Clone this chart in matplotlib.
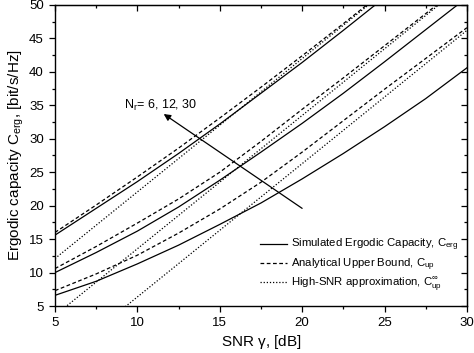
import matplotlib
matplotlib.use("Agg")
import matplotlib.pyplot as plt
from matplotlib.ticker import MultipleLocator

plt.rcParams['font.family'] = ['Liberation Sans', 'DejaVu Sans']
plt.rcParams['mathtext.default'] = 'regular'

# SNR grid [dB]
snr = [5, 7.5, 10, 12.5, 15, 17.5, 20, 22.5, 25, 27.5, 30]

# simulated ergodic capacity (solid)
sim_30 = [15.6, 19.6, 23.6, 27.8, 32.2, 36.8, 41.4, 46.2, 51.1, 56.0, 61.0]
sim_12 = [10.0, 13.0, 16.2, 19.8, 23.8, 28.0, 32.3, 36.8, 41.5, 46.3, 51.1]
sim_6 = [6.6, 8.7, 11.3, 14.1, 17.2, 20.4, 24.0, 27.8, 31.8, 36.0, 40.6]

# analytical upper bound (dashed)
up_30 = [16.0, 20.1, 24.3, 28.6, 33.1, 37.7, 42.4, 47.2, 52.1, 57.0, 62.0]
up_12 = [10.6, 13.9, 17.4, 21.0, 25.0, 29.6, 34.4, 39.1, 43.9, 48.7, 53.6]
up_6 = [7.3, 9.8, 12.6, 15.9, 19.5, 23.5, 28.0, 32.7, 37.4, 42.0, 46.6]

# high-SNR approximation (dotted, straight lines in dB)
snr_hi = [5, 30]
hi_30 = [12.1, 61.9]
hi_12 = [3.6, 53.4]
hi_6 = [-3.6, 46.2]

fig = plt.figure(figsize=(4.74, 3.53), dpi=100)
ax = fig.add_axes([0.116, 0.133, 0.869, 0.853])

lw = 0.9
ax.plot(snr, sim_30, color='black', lw=lw, label='Simulated Ergodic Capacity, C$_{erg}$')
ax.plot(snr, up_30, color='black', lw=lw, ls=(0, (3, 2)), label='Analytical Upper Bound, C$_{up}$')
ax.plot(snr_hi, hi_30, color='black', lw=lw, ls=(0, (1, 1.5)), label='High-SNR approximation, C$_{up}^{\\infty}$')
for s, u, h in [(sim_12, up_12, hi_12), (sim_6, up_6, hi_6)]:
    ax.plot(snr, s, color='black', lw=lw)
    ax.plot(snr, u, color='black', lw=lw, ls=(0, (3, 2)))
    ax.plot(snr_hi, h, color='black', lw=lw, ls=(0, (1, 1.5)))

ax.set_xlim(5, 30)
ax.set_ylim(5, 50)
ax.xaxis.set_major_locator(MultipleLocator(5))
ax.xaxis.set_minor_locator(MultipleLocator(2.5))
ax.yaxis.set_major_locator(MultipleLocator(5))
ax.yaxis.set_minor_locator(MultipleLocator(2.5))
ax.tick_params(which='both', direction='out', labelsize=9.5, width=0.9)
ax.tick_params(which='major', length=4.5)
ax.tick_params(which='minor', length=2.5)

# inward ticks on top and right like Origin
secx = ax.secondary_xaxis('top')
secx.xaxis.set_major_locator(MultipleLocator(5))
secx.xaxis.set_minor_locator(MultipleLocator(2.5))
secx.tick_params(which='both', direction='in', labeltop=False, width=0.9)
secx.tick_params(which='major', length=4.5)
secx.tick_params(which='minor', length=2.5)
secy = ax.secondary_yaxis('right')
secy.yaxis.set_major_locator(MultipleLocator(5))
secy.yaxis.set_minor_locator(MultipleLocator(2.5))
secy.tick_params(which='both', direction='in', labelright=False, width=0.9)
secy.tick_params(which='major', length=4.5)
secy.tick_params(which='minor', length=2.5)
for sp in ax.spines.values():
    sp.set_linewidth(1.0)

ax.set_xlabel('SNR $\\gamma$, [dB]', fontsize=11, labelpad=3)
ax.set_ylabel('Ergodic capacity C$_{erg}$, [bit/s/Hz]', fontsize=11, labelpad=2)

ax.annotate('', xy=(11.6, 33.7), xytext=(20.0, 19.6),
            arrowprops=dict(arrowstyle='-|>', color='black', lw=0.9,
                            mutation_scale=10, shrinkA=0, shrinkB=0))
ax.text(9.2, 35.0, 'N$_r$= 6, 12, 30', fontsize=9, va='center', ha='left')

leg = ax.legend(loc='center left', bbox_to_anchor=(0.487, 0.136), frameon=False,
                fontsize=8.2, handlelength=2.4, handletextpad=0.3,
                labelspacing=0.25, borderaxespad=0)

fig.savefig('out.png', dpi=100)
